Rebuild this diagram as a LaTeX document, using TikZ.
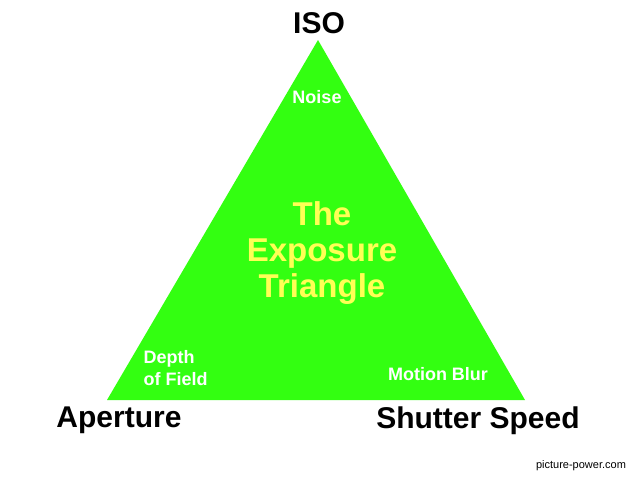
\documentclass[tikz,border=0pt]{standalone}
\usepackage{fontspec}
\setmainfont{Liberation Sans}
\definecolor{tri}{HTML}{33FF11}
\definecolor{ylw}{HTML}{FFFF55}
\begin{document}
\begin{tikzpicture}[x=1pt,y=-1pt,
  big/.style={font=\fontsize{30}{32}\selectfont\bfseries},
  small/.style={font=\fontsize{18}{22}\selectfont\bfseries,text=white,align=left}]
\useasboundingbox[fill=white] (0,0) rectangle (640,480);
\coordinate (a) at (318,40);
\coordinate (b) at (107,400);
\coordinate (c) at (525,400);
\fill[tri] (a) -- (b) -- (c) -- cycle;
\node[big] (iso) at (319,23) {ISO};
\node[big] (ap) at (119,420) {Aperture};
\node[big] (ss) at (478,421) {Shutter Speed};
\node[small] (noise) at (317,97) {Noise};
\node[small] (dof) at (140,368) [anchor=west] {Depth\\of Field};
\node[small] (mb) at (438,374) {Motion Blur};
\node[font=\fontsize{33}{36}\selectfont\bfseries,text=ylw,align=center] (t) at (322,253) {The\\Exposure\\Triangle};
\node[font=\fontsize{11}{13}\selectfont] (w) at (581,466) {picture-power.com};
\end{tikzpicture}
\end{document}
